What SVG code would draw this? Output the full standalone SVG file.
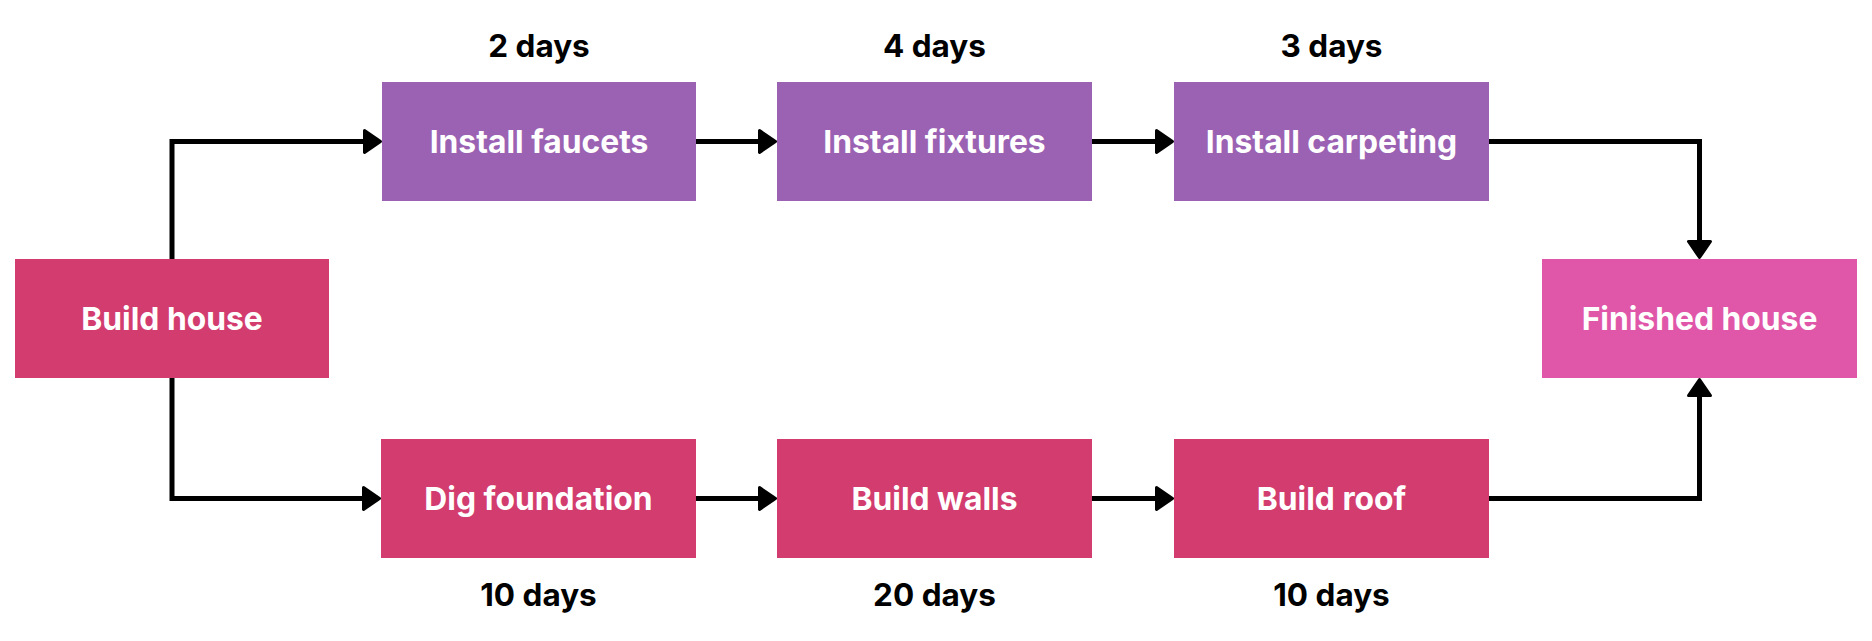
<svg xmlns="http://www.w3.org/2000/svg" width="1872" height="641" viewBox="0 0 1872 641">
<defs>
<style>
.purple{fill:#9B62B3}
.pink{fill:#D33C6E}
.finish{fill:#E057A9}
.lbl{font-family:Inter,"Liberation Sans",sans-serif;font-weight:700;font-size:31.8px;fill:#fff;text-anchor:middle}
.dur{font-family:Inter,"Liberation Sans",sans-serif;font-weight:700;font-size:31.5px;fill:#000;text-anchor:middle}
.conn{fill:none;stroke:#000;stroke-width:5;stroke-linejoin:miter}
</style>
<marker id="arr" markerUnits="userSpaceOnUse" markerWidth="26" markerHeight="30" viewBox="0 0 26 30" refX="8.5" refY="14" orient="auto">
<path d="M3,3 L19,14 L3,25 Z" fill="#000" stroke="#000" stroke-width="3" stroke-linejoin="round"/>
</marker>
</defs>
<rect width="1872" height="641" fill="#fff"/>
<g id="connectors">
<path class="conn" d="M172,259 V141.5 H370" marker-end="url(#arr)"/>
<path class="conn" d="M696,141.5 H765" marker-end="url(#arr)"/>
<path class="conn" d="M1092,141.5 H1162" marker-end="url(#arr)"/>
<path class="conn" d="M1489,141.5 H1699.5 V247" marker-end="url(#arr)"/>
<path class="conn" d="M172,378 V498.5 H369" marker-end="url(#arr)"/>
<path class="conn" d="M696,498.5 H765" marker-end="url(#arr)"/>
<path class="conn" d="M1092,498.5 H1162" marker-end="url(#arr)"/>
<path class="conn" d="M1489,498.5 H1699.5 V390" marker-end="url(#arr)"/>
</g>
<g id="build-house">
<rect class="pink" x="15" y="259" width="314" height="119"/>
<text class="lbl" x="172" y="330">Build house</text>
</g>
<g id="install-faucets">
<rect class="purple" x="382" y="82" width="314" height="119"/>
<text class="lbl" x="539" y="153">Install faucets</text>
<text class="dur" x="539" y="57">2 days</text>
</g>
<g id="install-fixtures">
<rect class="purple" x="777" y="82" width="315" height="119"/>
<text class="lbl" x="934.5" y="153">Install fixtures</text>
<text class="dur" x="934.5" y="57">4 days</text>
</g>
<g id="install-carpeting">
<rect class="purple" x="1174" y="82" width="315" height="119"/>
<text class="lbl" x="1331.5" y="153">Install carpeting</text>
<text class="dur" x="1331.5" y="57">3 days</text>
</g>
<g id="dig-foundation">
<rect class="pink" x="381" y="439" width="315" height="119"/>
<text class="lbl" x="538.5" y="510">Dig foundation</text>
<text class="dur" x="538.5" y="606">10 days</text>
</g>
<g id="build-walls">
<rect class="pink" x="777" y="439" width="315" height="119"/>
<text class="lbl" x="934.5" y="510">Build walls</text>
<text class="dur" x="934.5" y="606">20 days</text>
</g>
<g id="build-roof">
<rect class="pink" x="1174" y="439" width="315" height="119"/>
<text class="lbl" x="1331.5" y="510">Build roof</text>
<text class="dur" x="1331.5" y="606">10 days</text>
</g>
<g id="finished-house">
<rect class="finish" x="1542" y="259" width="315" height="119"/>
<text class="lbl" x="1699.5" y="330">Finished house</text>
</g>
</svg>
